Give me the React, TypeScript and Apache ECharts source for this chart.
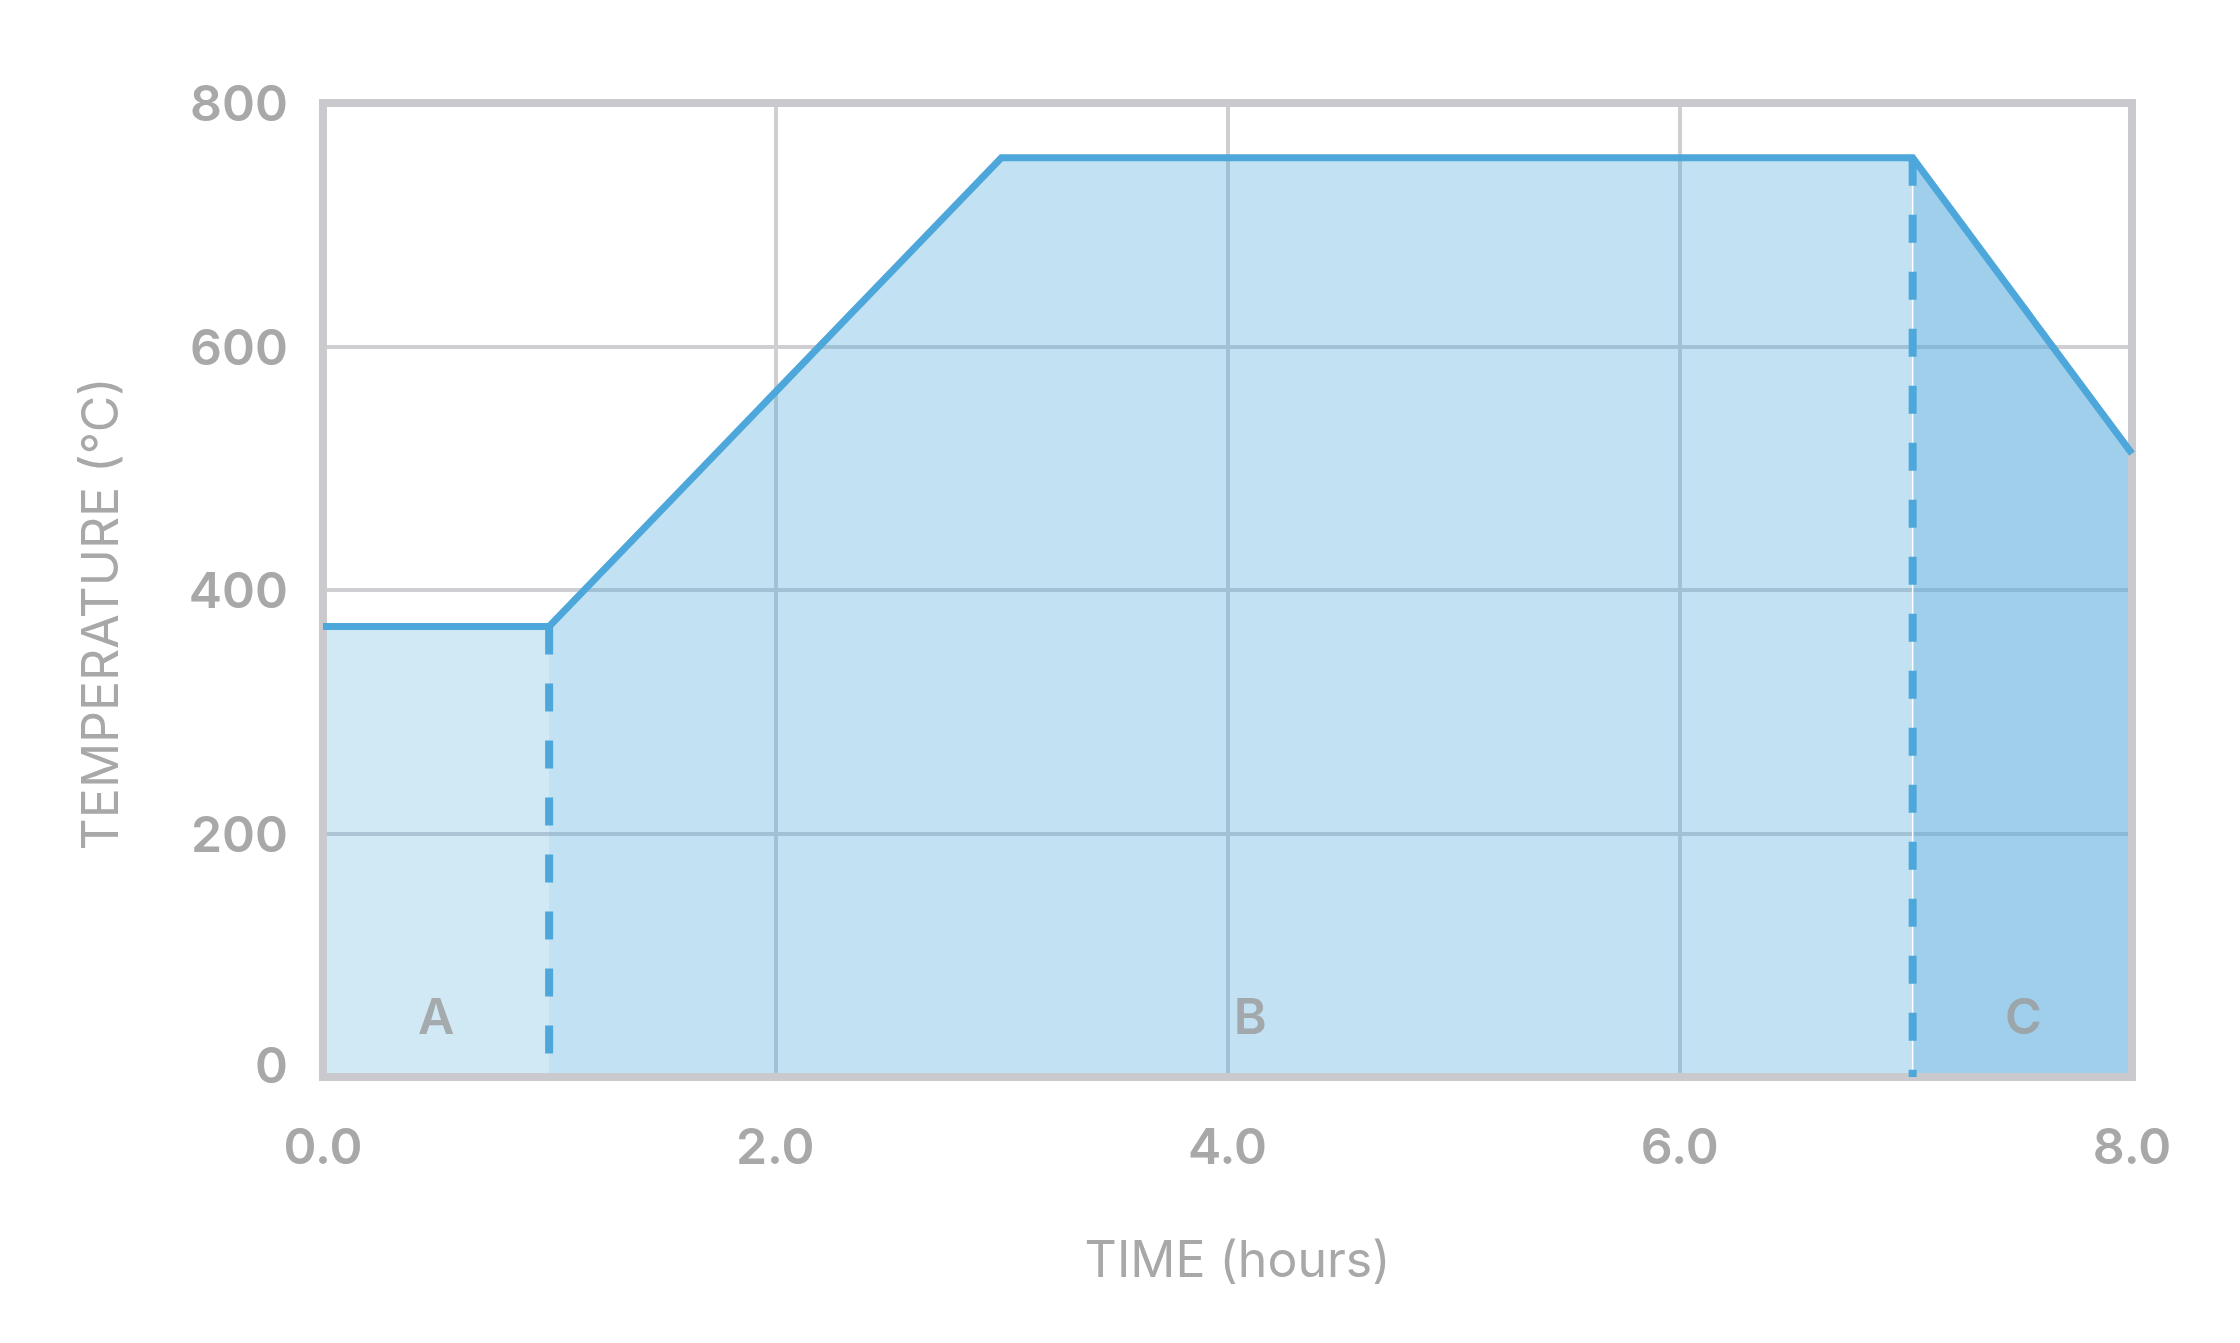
import React, { useEffect, useRef } from "react";
import * as echarts from "echarts";

// ---- data ----
const timeX = [0, 1, 3, 7.03, 8];
const tempY = [370, 370, 755, 755, 512];
const boundaryX = [1, 7.03];
const boundaryTop = [370, 755];
const regionLabels = ["A", "B", "C"];
const regionLabelX = [0.5, 4.1, 7.52];
const regionLabelY = [50, 50, 50];
const xMin = 0, xMax = 8, xStep = 2;
const yMin = 0, yMax = 800, yStep = 200;
const xTitle = "TIME (hours)";
const yTitle = "TEMPERATURE (°C)";

const FONT = "Inter";
const LINE = "#4EA7DA";
const FILL_A = "rgba(78,167,218,0.26)";
const FILL_B = "rgba(78,167,218,0.345)";
const FILL_C = "rgba(78,167,218,0.54)";
const LABEL_GREY = "#A8A8A8";
const GRID_GREY = "#CFCFD3";

export default function App() {
  const ref = useRef<HTMLDivElement>(null);
  useEffect(() => {
    document.body.style.margin = "0";
    const chart = echarts.init(ref.current!, undefined, { renderer: "svg" });
    const pts = timeX.map((x, i) => [x, tempY[i]]);
    const area = (from: number, to: number, color: string) => ({
      type: "line",
      data: pts.slice(from, to + 1),
      symbol: "none",
      lineStyle: { width: 0 },
      areaStyle: { color, opacity: 1 },
      z: 2,
      silent: true,
    });
    const series: any[] = [
      area(0, 1, FILL_A),
      area(1, 3, FILL_B),
      area(3, 4, FILL_C),
      {
        type: "line",
        data: [[boundaryX[1], boundaryTop[1]], [boundaryX[1], 0]],
        symbol: "none",
        lineStyle: { color: "#FFFFFF", width: 1.5 },
        z: 3,
      },
      {
        type: "line",
        data: pts,
        symbol: "none",
        lineStyle: { color: LINE, width: 7, join: "miter" },
        z: 6,
      },
      ...boundaryX.map((bx, i) => ({
        type: "line",
        data: [[bx, boundaryTop[i]], [bx, 0]],
        symbol: "none",
        lineStyle: { color: LINE, width: 8, type: [28, 29] },
        z: 7,
      })),
      {
        type: "scatter",
        data: regionLabelX.map((x, i) => [x, regionLabelY[i]]),
        symbolSize: 0,
        label: {
          show: true,
          position: "inside",
          formatter: (p: any) => regionLabels[p.dataIndex],
          color: "#9A9A9A",
          fontSize: 50,
          fontWeight: 600,
          fontFamily: FONT,
        },
        z: 8,
      },
    ];
    chart.setOption({
      animation: false,
      backgroundColor: "#FFFFFF",
      grid: {
        left: 323,
        right: 108,
        top: 103,
        bottom: 266,
        show: true,
        borderColor: "#CACACE",
        borderWidth: 8,
        backgroundColor: "transparent",
        z: 5,
      },
      xAxis: {
        type: "value",
        min: xMin,
        max: xMax,
        interval: xStep,
        axisLine: { show: false },
        axisTick: { show: false },
        splitLine: { show: true, lineStyle: { color: GRID_GREY, width: 4 } },
        axisLabel: {
          formatter: (v: number) => v.toFixed(1),
          color: LABEL_GREY,
          fontSize: 50,
          fontWeight: 600,
          fontFamily: FONT,
          margin: 44,
        },
        name: xTitle,
        nameLocation: "middle",
        nameGap: 157,
        nameTextStyle: { color: LABEL_GREY, fontSize: 50, fontFamily: FONT, fontWeight: 400, padding: [0, 0, 0, 20] },
      },
      yAxis: {
        type: "value",
        min: yMin,
        max: yMax,
        interval: yStep,
        axisLine: { show: false },
        axisTick: { show: false },
        splitLine: { show: true, lineStyle: { color: GRID_GREY, width: 4 } },
        axisLabel: {
          formatter: (v: number) => (v === 0 ? "{z|0}" : String(v)),
          color: LABEL_GREY,
          fontSize: 50,
          fontWeight: 600,
          fontFamily: FONT,
          margin: 35,
          rich: { z: { color: LABEL_GREY, fontSize: 50, fontWeight: 600, fontFamily: FONT, padding: [0, 0, 24, 0] } },
        },
      },
      graphic: [
        {
          type: "text",
          x: 100,
          y: 614,
          rotation: Math.PI / 2,
          style: {
            text: yTitle,
            fill: LABEL_GREY,
            fontSize: 50,
            fontFamily: FONT,
            fontWeight: 400,
            align: "center",
            verticalAlign: "middle",
          },
        },
      ],
      series,
    });
    return () => chart.dispose();
  }, []);
  return <div ref={ref} style={{ width: 2240, height: 1343 }} />;
}
